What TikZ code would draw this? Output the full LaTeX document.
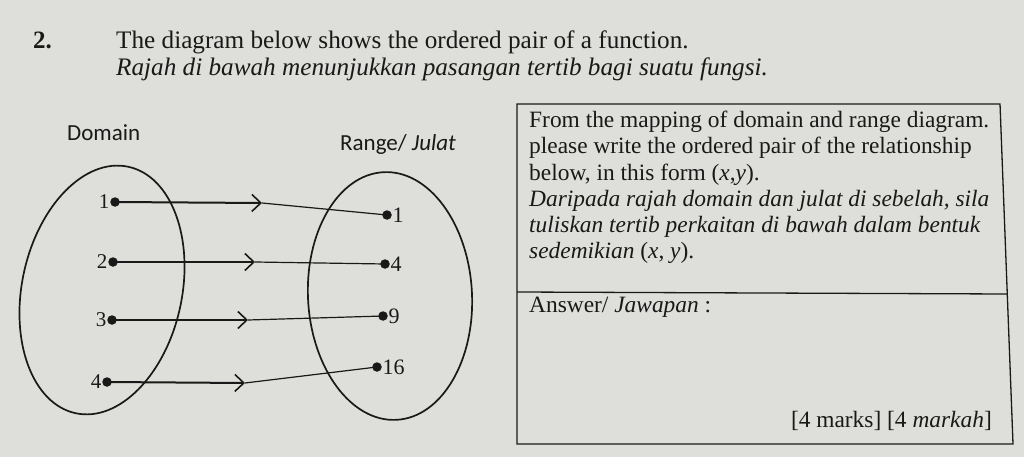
\documentclass[tikz,border=0pt]{standalone}
\usepackage{fontspec}
\setmainfont{Liberation Serif}
\newfontfamily\calib{Carlito}
\usetikzlibrary{arrows.meta}
\definecolor{bgc}{RGB}{222,222,218}
\definecolor{ink}{RGB}{25,25,25}
\begin{document}
\begin{tikzpicture}[x=1pt,y=-1pt,
  every node/.style={text=ink},
  dot/.style={circle,fill=ink,inner sep=0,minimum size=9.5},
  dlab/.style={font=\fontsize{21}{23}\selectfont,inner sep=0.5},
  rlab/.style={font=\fontsize{22}{24}\selectfont,inner sep=0.5},
  arr/.style={draw=ink,line width=2,-{Straight Barb[length=9,width=17,line width=1.6]}},
  thinl/.style={draw=ink,line width=1.2},
  setell/.style={draw=ink,line width=1.7},
  boxl/.style={draw=ink,line width=1.3}]
\fill[bgc] (0,0) rectangle (1024,457);
% title
\node[anchor=base west,inner sep=0,font=\fontsize{25}{28}\selectfont\bfseries] (num) at (33,49) {2.};
\node[anchor=base west,inner sep=0,font=\fontsize{25.2}{28}\selectfont] (t1) at (116,49) {The diagram below shows the ordered pair of a function.};
\node[anchor=base west,inner sep=0,font=\fontsize{25.2}{28}\selectfont\itshape] (t2) at (116,76) {Rajah di bawah menunjukkan pasangan tertib bagi suatu fungsi.};
% labels
\node[anchor=base west,inner sep=0,font=\calib\fontsize{23}{26}\selectfont] (dom) at (67,141) {Domain};
\node[anchor=base west,inner sep=0,font=\calib\fontsize{23}{26}\selectfont] (rng) at (340,150) {Range/ \textit{Julat}};
% ellipses
\draw[setell,rotate around={-12:(102,290)}] (102,290) ellipse [x radius=80,y radius=126];
\draw[setell,rotate around={3:(390,296)}] (390,296) ellipse [x radius=82,y radius=124];
% domain points
\node[dot,label={[dlab]left:1}] (d1) at (115,202) {};
\node[dot,label={[dlab]left:2}] (d2) at (113,262) {};
\node[dot,label={[dlab]left:3}] (d3) at (112,320) {};
\node[dot,label={[dlab]left:4}] (d4) at (107,382) {};
% range points
\node[dot,label={[rlab]right:1}] (r1) at (387,215) {};
\node[dot,label={[rlab]right:4}] (r4) at (385,264) {};
\node[dot,label={[rlab]right:9}] (r9) at (383,316) {};
\node[dot,label={[rlab]right:16}] (r16) at (377,367) {};
% arrow tips
\coordinate (m1) at (262,203);
\coordinate (m2) at (255,262);
\coordinate (m3) at (248,320);
\coordinate (m4) at (245,383);
\draw[arr] (d1.center) -- (m1);
\draw[arr] (d2.center) -- (m2);
\draw[arr] (d3.center) -- (m3);
\draw[arr] (d4.center) -- (m4);
\draw[thinl] (m1) -- (r1.center);
\draw[thinl] (m2) -- (r4.center);
\draw[thinl] (m3) -- (r9.center);
\draw[thinl] (m4) -- (r16.center);
% box
\coordinate (b1) at (517,104);
\coordinate (b2) at (1000,104);
\coordinate (b3) at (1013,444);
\coordinate (b4) at (517,444);
\coordinate (s1) at (517,292);
\coordinate (s2) at (1007,294);
\draw[boxl] (b1) -- (b2) -- (b3) -- (b4) -- cycle;
\draw[boxl] (s1) -- (s2);
\node[anchor=north west,inner sep=0,align=left,font=\fontsize{23.4}{26.2}\selectfont] (q) at (529,111)
{From the mapping of domain and range diagram.\\
please write the ordered pair of the relationship\\
below, in this form (\textit{x},\textit{y}).\\
\textit{Daripada rajah domain dan julat di sebelah, sila}\\
\textit{tuliskan tertib perkaitan di bawah dalam bentuk}\\
\textit{sedemikian} (\textit{x}, \textit{y}).};
\node[anchor=base west,inner sep=0,font=\fontsize{23.4}{26}\selectfont] (ans) at (529,312) {Answer/ \textit{Jawapan} :};
\node[anchor=base east,inner sep=0,font=\fontsize{23.4}{26}\selectfont] (mk) at (992,427) {[4 marks] [4 \textit{markah}]};
\end{tikzpicture}
\end{document}
